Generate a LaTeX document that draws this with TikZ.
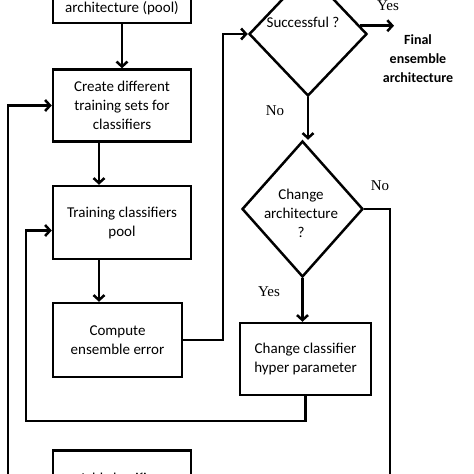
\documentclass[tikz,border=0pt]{standalone}
\usepackage{fontspec}
\setmainfont{Carlito}
\newfontfamily\tnr{Liberation Serif}
\usetikzlibrary{arrows.meta,shapes.geometric}
\begin{document}
\begin{tikzpicture}[x=1pt,y=-1pt,
  box/.style={draw,line width=2.5pt,rectangle,inner sep=0pt,align=center,font=\fontsize{15}{19}\selectfont},
  dia/.style={draw,line width=2.5pt,diamond,inner sep=0pt},
  txt/.style={align=center,inner sep=0pt,font=\fontsize{15}{19}\selectfont},
  lbl/.style={inner sep=0pt,font=\tnr\fontsize{15}{16}\selectfont},
  arr/.style={line width=2.5pt,-{Straight Barb[length=5pt,width=11pt]}},
  ln/.style={line width=2.5pt}]
\useasboundingbox (0,0) rectangle (474,474);
\clip (0,0) rectangle (474,474);
% boxes
\node[box,anchor=south,minimum width=138pt,minimum height=60pt] (pool) at (122,24) {};
\node[txt] (pooltxt) at (122,8) {architecture (pool)};
\node[box,minimum width=138pt,minimum height=72pt] (create) at (122,105.5) {Create different\\training sets for\\classifiers};
\node[box,minimum width=138pt,minimum height=73pt] (train) at (122,222.5) {Training classifiers\\pool};
\node[box,minimum width=129pt,minimum height=74pt] (compute) at (117.5,340) {Compute\\ensemble error};
\node[box,minimum width=131pt,minimum height=72pt] (hyper) at (305.5,359) {Change classifier\\hyper parameter};
\node[box,anchor=north,minimum width=138pt,minimum height=60pt] (add) at (122,449) {};
\node[txt] (addtxt) at (122,478) {Add classifiers};
% diamonds
\node[dia,minimum width=118pt,minimum height=124pt] (succ) at (308,34) {};
\node[txt] (succtxt) at (303,22) {Successful ?};
\node[dia,minimum width=121pt,minimum height=136pt] (chg) at (302.5,209) {};
\node[txt] (chgtxt) at (301,213) {Change\\architecture\\?};
% final text
\node[txt,font=\bfseries\fontsize{14}{19}\selectfont] (final) at (418,59) {Final\\ensemble\\architecture};
% labels
\node[lbl] (yes1) at (388,6) {Yes};
\node[lbl] (no1) at (275,111) {No};
\node[lbl] (no2) at (380,186) {No};
\node[lbl] (yes2) at (269,292) {Yes};
% coordinates
\coordinate (yesend) at (394,26);
\coordinate (c1) at (223,340);
\coordinate (l1) at (8,490);
\coordinate (l2) at (26,421);
\coordinate (r1) at (390,490);
% connectors
\draw[arr] (pool.south) -- (create.north);
\draw[arr] ([xshift=-23pt]create.south) -- ([xshift=-23pt]create.south |- train.north);
\draw[arr] ([xshift=-23pt]train.south) -- ([xshift=-23pt]train.south |- compute.north);
\draw[arr] (compute.east) -- (c1) |- (succ.west);
\draw[arr] (succ.9) -- (succ.9 -| yesend);
\draw[arr] (succ.south) -- (succ.south |- chg.north);
\draw[arr] (chg.south) -- (chg.south |- hyper.north);
\draw[ln] (chg.east) -| (r1);
\draw[arr] (hyper.south) |- (l2) -- ([yshift=-8pt]l2 |- train.west) -- ([yshift=-8pt]train.west);
\draw[arr] (l1) |- (create.west);
\end{tikzpicture}
\end{document}
